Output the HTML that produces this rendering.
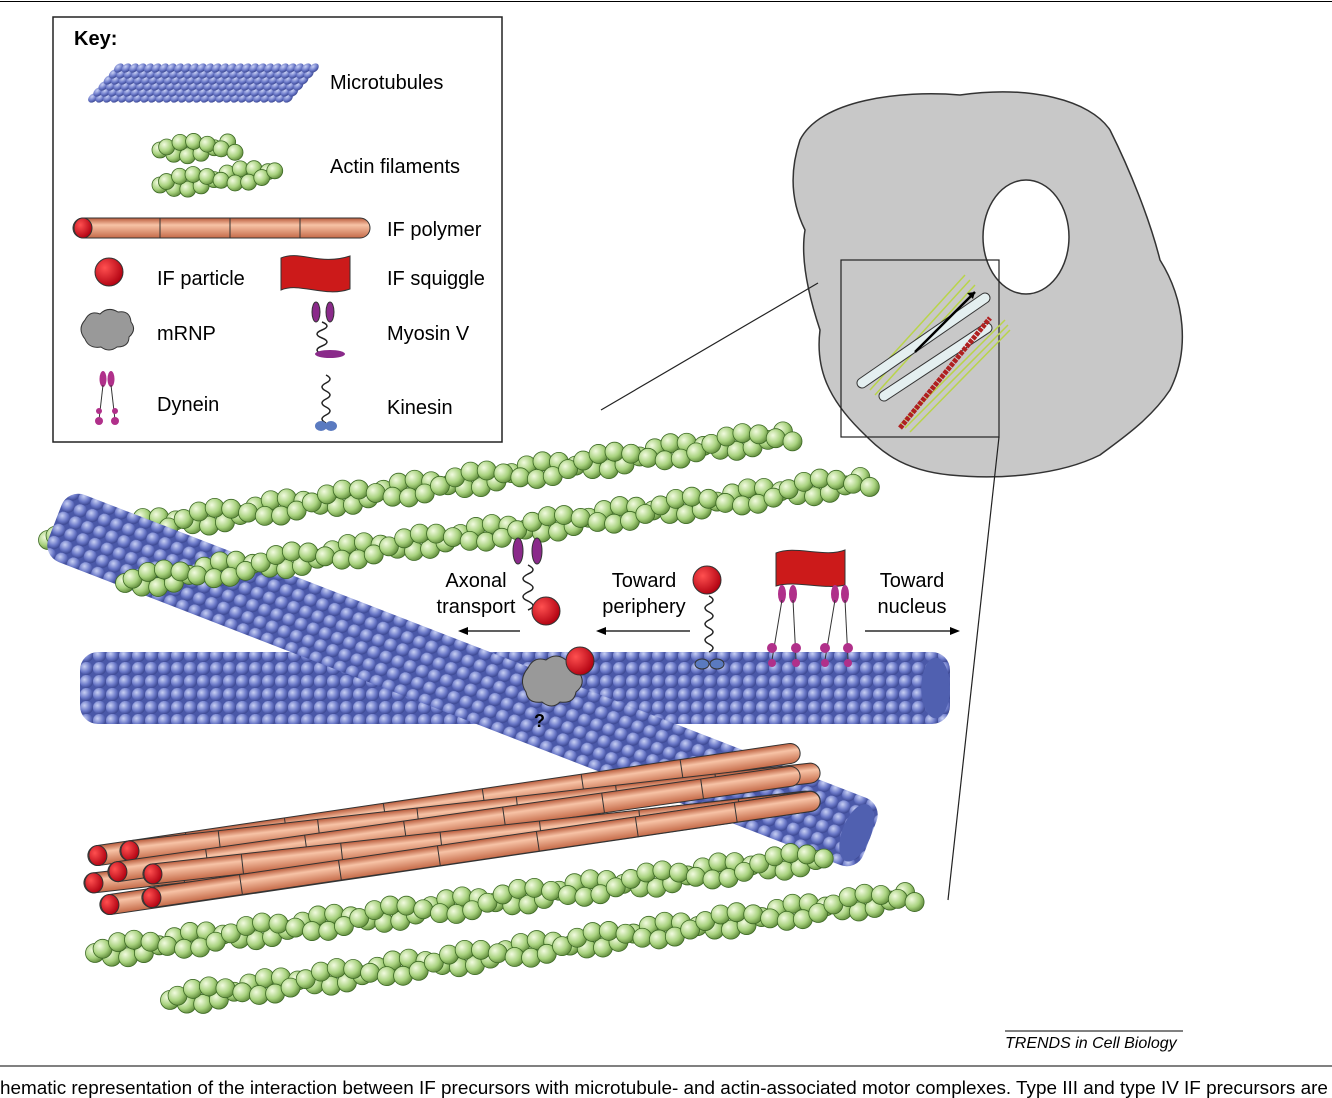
<!DOCTYPE html>
<html><head><meta charset="utf-8"><style>
html,body{margin:0;padding:0;background:#fff;}
svg{display:block;}
text{font-family:"Liberation Sans",Arial,sans-serif;}
</style></head><body>
<svg id="s" width="1332" height="1098" viewBox="0 0 1332 1098" xmlns="http://www.w3.org/2000/svg">
<defs>
<radialGradient id="gb" cx="0.35" cy="0.35" r="0.7"><stop offset="0" stop-color="#c8d0f4"/><stop offset="0.6" stop-color="#6a78c8"/><stop offset="1" stop-color="#3a4690"/></radialGradient>
<radialGradient id="gg" cx="0.35" cy="0.35" r="0.7"><stop offset="0" stop-color="#f2fbe0"/><stop offset="0.6" stop-color="#a8d27e"/><stop offset="1" stop-color="#5f8a3a"/></radialGradient>
<radialGradient id="gr" cx="0.35" cy="0.35" r="0.7"><stop offset="0" stop-color="#ff5050"/><stop offset="1" stop-color="#b00010"/></radialGradient>
<linearGradient id="go" x1="0" y1="0" x2="0" y2="1"><stop offset="0" stop-color="#b85a3a"/><stop offset="0.35" stop-color="#f7c3a6"/><stop offset="1" stop-color="#c56a48"/></linearGradient>
<pattern id="mt" width="13" height="13" patternUnits="userSpaceOnUse"><rect width="13" height="13" fill="#4a58a8"/><circle cx="6.5" cy="6.5" r="6.6" fill="url(#gb)"/></pattern>
</defs>
<line x1="0" y1="1.5" x2="1332" y2="1.5" stroke="#000" stroke-width="1"/>
<line x1="0" y1="1066" x2="1332" y2="1066" stroke="#000" stroke-width="1"/>
<text x="0" y="1094" font-size="18.9">hematic representation of the interaction between IF precursors with microtubule- and actin-associated motor complexes. Type III and type IV IF precursors are</text>
<line x1="1005" y1="1031" x2="1183" y2="1031" stroke="#000"/>
<text x="1005" y="1048" font-size="16" font-style="italic">TRENDS in Cell Biology</text>

<!-- cell -->
<path d="M800,140 C820,100 900,90 960,95 C1030,85 1090,100 1110,130 C1130,170 1150,220 1160,260 C1185,300 1190,350 1170,390 C1150,420 1120,440 1100,455 C1060,475 1000,480 950,475 C900,470 880,450 860,430 C830,400 815,370 820,330 C810,300 800,260 805,230 C790,200 790,170 800,140 Z" fill="#c8c8c8" stroke="#333" stroke-width="1.5"/>
<ellipse cx="1026" cy="237" rx="43" ry="57" fill="#fff" stroke="#333" stroke-width="1.5"/>
<rect x="841" y="260" width="158" height="177" fill="none" stroke="#222" stroke-width="1.2"/>
<line x1="601" y1="410" x2="818" y2="283" stroke="#222" stroke-width="1.2"/>
<line x1="999" y1="437" x2="948" y2="900" stroke="#222" stroke-width="1.2"/>
<g stroke="#b9d44a" stroke-width="1.5">
<line x1="865" y1="385" x2="965" y2="275"/><line x1="870" y1="390" x2="970" y2="280"/><line x1="875" y1="395" x2="975" y2="285"/>
<line x1="900" y1="425" x2="1005" y2="320"/><line x1="905" y1="428" x2="1008" y2="325"/><line x1="910" y1="432" x2="1010" y2="330"/>
</g>
<line x1="862" y1="383" x2="985" y2="298" stroke="#333" stroke-width="11" stroke-linecap="round"/>
<line x1="862" y1="383" x2="985" y2="298" stroke="#e4eff0" stroke-width="9" stroke-linecap="round"/>
<line x1="884" y1="396" x2="987" y2="328" stroke="#333" stroke-width="11" stroke-linecap="round"/>
<line x1="884" y1="396" x2="987" y2="328" stroke="#e4eff0" stroke-width="9" stroke-linecap="round"/>
<line x1="900" y1="428" x2="990" y2="318" stroke="#b02020" stroke-width="5" stroke-dasharray="4 1"/>
<path d="M915,352 L975,292" stroke="#000" stroke-width="2.5"/><path d="M975,292 l-8,1 l6,6 z" fill="#000"/>

<!-- key -->
<rect x="53" y="17" width="449" height="425" fill="#fff" stroke="#222" stroke-width="1.5"/>
<text x="74" y="45" font-size="20" font-weight="bold">Key:</text>
<g font-size="20">
<text x="330" y="89">Microtubules</text>
<text x="330" y="173">Actin filaments</text>
<text x="387" y="236">IF polymer</text>
<text x="157" y="285">IF particle</text>
<text x="387" y="285">IF squiggle</text>
<text x="157" y="340">mRNP</text>
<text x="387" y="340">Myosin V</text>
<text x="157" y="411">Dynein</text>
<text x="387" y="414">Kinesin</text>
</g>
<g id="keymt"></g>
<rect x="73" y="218" width="297" height="20" rx="10" fill="url(#go)" stroke="#333"/>
<ellipse cx="83" cy="228" rx="9" ry="10" fill="url(#gr)" stroke="#333"/>
<g stroke="#333"><line x1="160" y1="218" x2="160" y2="238"/><line x1="230" y1="218" x2="230" y2="238"/><line x1="300" y1="218" x2="300" y2="238"/></g>
<circle cx="109" cy="272" r="14" fill="url(#gr)" stroke="#333"/>
<path d="M281,258 C300,250 320,266 350,256 L350,289 C325,298 300,282 281,290 Z" fill="#cc1a1a" stroke="#333"/>
<path d="M85,320 q5,-10 15,-6 q8,-8 18,-2 q12,-2 13,10 q6,8 -2,15 q0,10 -12,10 q-8,6 -16,0 q-12,2 -16,-8 q-8,-10 0,-19 z" fill="#999" stroke="#333"/>
<g transform="translate(330,330)"><ellipse cx="-14" cy="-18" rx="4" ry="10" fill="#8a2a8a" stroke="#333"/><ellipse cx="0" cy="-18" rx="4" ry="10" fill="#8a2a8a" stroke="#333"/><path d="M-8,-8 q10,4 0,8 q-10,4 0,8 q10,4 0,8 q-10,4 0,8" fill="none" stroke="#222" stroke-width="1.5"/><ellipse cx="0" cy="24" rx="15" ry="4" fill="#8a2a8a"/></g>
<g transform="translate(107,375)"><ellipse cx="-4" cy="4" rx="3.5" ry="8" fill="#b0308a"/><ellipse cx="4" cy="4" rx="3.5" ry="8" fill="#b0308a"/><line x1="-4" y1="10" x2="-8" y2="45" stroke="#333"/><line x1="4" y1="10" x2="8" y2="45" stroke="#333"/><circle cx="-8" cy="46" r="4" fill="#b0308a"/><circle cx="8" cy="46" r="4" fill="#b0308a"/><circle cx="-8" cy="36" r="3" fill="#b0308a"/><circle cx="8" cy="36" r="3" fill="#b0308a"/></g>
<g transform="translate(326,375)"><path d="M0,0 q8,4 0,8 q-8,4 0,8 q8,4 0,8 q-8,4 0,8 q8,4 0,8 q-8,4 0,8" fill="none" stroke="#222" stroke-width="1.5"/><ellipse cx="-5" cy="51" rx="6" ry="5" fill="#5a7ac0"/><ellipse cx="5" cy="51" rx="6" ry="5" fill="#5a7ac0"/></g>

<g id="main"></g>

<g font-size="20" text-anchor="middle">
<text x="476" y="587">Axonal</text><text x="476" y="613">transport</text>
<text x="644" y="587">Toward</text><text x="644" y="613">periphery</text>
<text x="912" y="587">Toward</text><text x="912" y="613">nucleus</text>
</g>
<g stroke="#000" stroke-width="1.2"><line x1="468" y1="631" x2="520" y2="631"/><line x1="606" y1="631" x2="690" y2="631"/><line x1="865" y1="631" x2="950" y2="631"/></g>
<g fill="#000"><path d="M458,631 l10,-4 v8z"/><path d="M596,631 l10,-4 v8z"/><path d="M960,631 l-10,-4 v8z"/></g>
</svg>
<script>
var NS="http://www.w3.org/2000/svg";
function el(p,t,a){var e=document.createElementNS(NS,t);for(var k in a)e.setAttribute(k,a[k]);p.appendChild(e);return e;}
var M=document.getElementById("main"),K=document.getElementById("keymt");
function mtube(p,x1,y1,x2,y2,h){var dx=x2-x1,dy=y2-y1,L=Math.hypot(dx,dy),a=Math.atan2(dy,dx)*180/Math.PI;
 var g=el(p,"g",{transform:"translate("+x1+","+y1+") rotate("+a+")"});
 el(g,"rect",{x:0,y:-h/2,width:L,height:h,rx:h/4,fill:"url(#mt)"});
 el(g,"ellipse",{cx:L-h*0.2,cy:0,rx:h*0.2,ry:h*0.42,fill:"#5060b0"});}
function actin(p,x1,y1,x2,y2,r){var dx=x2-x1,dy=y2-y1,L=Math.hypot(dx,dy),ux=dx/L,uy=dy/L,nx=-uy,ny=ux;var n=Math.floor(L/(r*1.7));
 for(var s=0;s<2;s++)for(var i=0;i<n;i++){var t=i*r*1.7+s*r*0.85,ph=Math.sin((t/(r*14))*Math.PI*2+s*Math.PI);var off=ph*r*0.9;
 el(p,"circle",{cx:x1+ux*t+nx*off,cy:y1+uy*t+ny*off,r:r,fill:"url(#gg)",stroke:"#3d6a25","stroke-width":0.8});}}
function ifp(p,x1,y1,x2,y2,h){var dx=x2-x1,dy=y2-y1,L=Math.hypot(dx,dy),a=Math.atan2(dy,dx)*180/Math.PI;
 var g=el(p,"g",{transform:"translate("+x1+","+y1+") rotate("+a+")"});
 el(g,"rect",{x:0,y:-h/2,width:L,height:h,rx:h/2,fill:"url(#go)",stroke:"#333"});
 for(var s=100;s<L-20;s+=100)el(g,"line",{x1:s,y1:-h/2,x2:s,y2:h/2,stroke:"#333"});
 el(g,"ellipse",{cx:h/2,cy:0,rx:h/2-1,ry:h/2,fill:"url(#gr)",stroke:"#333"});}
(function(){var g=el(K,"g",{transform:"translate(93,98) skewX(-20)"});for(var r=0;r<6;r++)for(var c=0;c<27;c++)el(g,"circle",{cx:c*7.5+r*3,cy:-r*6,r:4.6,fill:"url(#gb)"});})();
actin(K,160,150,255,145,8);actin(K,160,185,295,170,8);
actin(M,48,540,810,432,9.5);
mtube(M,80,688,950,688,72);
mtube(M,55,522,870,838,72);
actin(M,125,583,885,478,9.5);
ifp(M,88,857,800,752,20);ifp(M,120,852,820,772,20);ifp(M,84,884,815,800,20);
ifp(M,108,873,800,775,20);ifp(M,143,875,820,800,20);ifp(M,100,906,820,800,20);ifp(M,142,899,820,800,20);
actin(M,95,953,840,855,9.5);
actin(M,170,1000,930,893,9.5);
var m=M;
el(m,"ellipse",{cx:518,cy:551,rx:5,ry:13,fill:"#8a2a8a",stroke:"#333"});el(m,"ellipse",{cx:537,cy:551,rx:5,ry:13,fill:"#8a2a8a",stroke:"#333"});
el(m,"path",{d:"M528,565 q10,5 0,9 q-10,5 0,9 q10,5 0,9 q-10,5 0,9 q10,5 0,9",fill:"none",stroke:"#222","stroke-width":1.5});
el(m,"circle",{cx:546,cy:611,r:14,fill:"url(#gr)",stroke:"#333"});
el(m,"path",{d:"M528,668 q6,-12 18,-8 q10,-8 20,0 q14,0 14,14 q6,10 -4,18 q-2,12 -16,10 q-8,8 -18,0 q-14,2 -16,-10 q-8,-12 2,-24 z",fill:"#999",stroke:"#333"});
el(m,"circle",{cx:580,cy:661,r:14,fill:"url(#gr)",stroke:"#333"});
var q=el(m,"text",{x:534,y:727,"font-size":18,"font-weight":"bold"});q.textContent="?";
el(m,"circle",{cx:707,cy:580,r:14,fill:"url(#gr)",stroke:"#333"});
el(m,"path",{d:"M709,596 q8,4 0,8 q-8,4 0,8 q8,4 0,8 q-8,4 0,8 q8,4 0,8 q-8,4 0,8 q8,4 0,8",fill:"none",stroke:"#222","stroke-width":1.5});
el(m,"ellipse",{cx:702,cy:664,rx:7,ry:5,fill:"#5a7ac0",stroke:"#333"});el(m,"ellipse",{cx:717,cy:664,rx:7,ry:5,fill:"#5a7ac0",stroke:"#333"});
el(m,"path",{d:"M776,553 C795,545 825,558 845,550 L845,585 C825,590 795,580 776,586 Z",fill:"#cc1a1a",stroke:"#333"});
[[779,796],[832,848]].forEach(function(pr){
 el(m,"ellipse",{cx:pr[0]+3,cy:594,rx:4,ry:9,fill:"#b0308a"});el(m,"ellipse",{cx:pr[1]-3,cy:594,rx:4,ry:9,fill:"#b0308a"});
 el(m,"line",{x1:pr[0]+3,y1:600,x2:pr[0]-7,y2:660,stroke:"#333"});el(m,"line",{x1:pr[1]-3,y1:600,x2:pr[1]+0,y2:660,stroke:"#333"});
 el(m,"circle",{cx:pr[0]-7,cy:648,r:5,fill:"#b0308a"});el(m,"circle",{cx:pr[1],cy:648,r:5,fill:"#b0308a"});
 el(m,"circle",{cx:pr[0]-7,cy:663,r:4,fill:"#b0308a"});el(m,"circle",{cx:pr[1],cy:663,r:4,fill:"#b0308a"});});
</script>
</body></html>
